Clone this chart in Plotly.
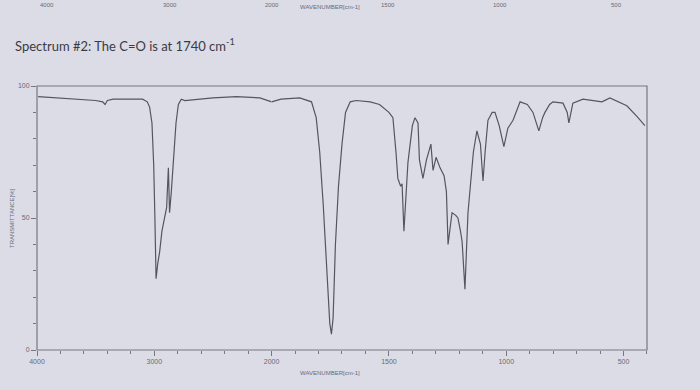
import plotly.graph_objects as go

# ---- data (wavenumber cm-1, %T) ----
wn_high = [3990, 3800, 3600, 3500, 3440, 3420, 3400, 3350, 3200, 3100, 3060, 3040, 3020,
           3005, 2995, 2985, 2970, 2955, 2935, 2910, 2895, 2880, 2870, 2855, 2835, 2815,
           2795, 2770, 2740, 2500, 2300, 2100, 2000]
t_high = [96, 95.5, 95, 94.5, 94, 93, 94.5, 95, 95, 95, 94, 92, 86,
          70, 50, 27, 33, 37, 45, 50, 54, 69, 52, 60, 72, 86,
          93, 95, 94.5, 95.5, 96, 95.5, 94]

wn_low = [2000, 1960, 1880, 1830, 1810, 1795, 1780, 1765, 1752, 1745, 1738, 1728, 1715, 1700,
          1685, 1665, 1640, 1580, 1540, 1500, 1483, 1470, 1462, 1450, 1444, 1436, 1425,
          1419, 1400, 1389, 1376, 1370, 1355, 1340, 1321, 1312, 1299, 1282, 1265, 1255,
          1248, 1240, 1231, 1215, 1206, 1195, 1188, 1176, 1170, 1163, 1140, 1125, 1110,
          1099, 1090, 1078, 1060, 1048, 1030, 1010, 993, 971, 941, 910, 886, 861, 845,
          835, 815, 801, 758, 740, 733, 725, 716, 673, 630, 592, 558, 520, 486, 443, 409]
t_low = [94, 95, 95.5, 94, 88, 75, 55, 28, 10, 6, 12, 40, 62, 78,
         90, 94, 94.5, 94, 93, 90, 88, 75, 65, 62, 63, 45, 62,
         71, 85, 88, 86, 72, 65, 72, 78, 68, 73, 69, 66, 60,
         40, 45, 52, 51, 50, 45, 41, 23, 35, 52, 75, 83, 78,
         64, 75, 87, 90, 90, 85, 77, 84, 87, 94, 93, 90, 83, 88,
         90, 93, 94, 93.5, 90, 86, 90, 93.5, 95, 94.5, 94, 95.5, 94, 92.5, 88.5, 85]

x1_ticks = [4000, 3000]
x2_ticks = [2000, 1500, 1000, 500]
y_ticks = [0, 50, 100]

title_text = "Spectrum #2: The C=O is at 1740 cm<sup>-1</sup>"
x_title = "WAVENUMBER[cm-1]"
y_title = "TRANSMITTANCE[%]"

line_col = "#55555f"
axis_col = "#77777f"
tick_font = dict(family="Liberation Sans", size=7, color="#6a6a72")
bg = "#dcdce6"

fig = go.Figure()
fig.add_trace(go.Scatter(x=wn_high, y=t_high, mode="lines", xaxis="x", yaxis="y",
                         line=dict(color=line_col, width=1.2), showlegend=False))
fig.add_trace(go.Scatter(x=wn_low, y=t_low, mode="lines", xaxis="x2", yaxis="y",
                         line=dict(color=line_col, width=1.2), showlegend=False))

split = 1000 / 2600
common_x = dict(showgrid=False, zeroline=False, ticks="outside", ticklen=5, tickwidth=1,
                tickcolor=axis_col, tickfont=tick_font, anchor="y", showline=False)
fig.update_layout(
    width=700, height=390,
    margin=dict(l=37, r=53, t=86, b=40),
    paper_bgcolor=bg, plot_bgcolor=bg,
    title=dict(text=title_text, x=15/700, xanchor="left", y=1-46/390, yanchor="middle",
               font=dict(family="Lato", size=13, color="#3a3a44")),
    xaxis=dict(domain=[0, split], range=[4000, 2000], tickmode="array", tickvals=x1_ticks,
               minor=dict(tickmode="linear", tick0=0, dtick=200, ticks="outside", ticklen=3,
                          tickcolor=axis_col), **common_x),
    xaxis2=dict(domain=[split, 1], range=[2000, 400], tickmode="array", tickvals=x2_ticks,
                minor=dict(tickmode="linear", tick0=0, dtick=100, ticks="outside", ticklen=3,
                           tickcolor=axis_col), **common_x),
    yaxis=dict(range=[0, 100], tickmode="array", tickvals=y_ticks, showgrid=False, zeroline=False,
               ticks="outside", ticklen=5, tickcolor=axis_col, tickfont=tick_font,
               minor=dict(tickmode="linear", tick0=0, dtick=10, ticks="outside", ticklen=3,
                          tickcolor=axis_col)),
    shapes=[dict(type="rect", xref="paper", yref="paper", x0=0, x1=1, y0=0, y1=1,
                 line=dict(color=axis_col, width=1.2))],
    annotations=[
        dict(text=x_title, xref="paper", yref="paper", x=(330-37)/610, y=-23/264,
             xanchor="center", yanchor="middle", showarrow=False,
             font=dict(family="Liberation Sans", size=6, color="#6a6a72")),
        dict(text=y_title, xref="paper", yref="paper", x=-25/610, y=0.5, textangle=-90,
             xanchor="center", yanchor="middle", showarrow=False,
             font=dict(family="Liberation Sans", size=6, color="#6a6a72")),
    ],
)

# labels of the previous chart, visible along the very top of the page
top_labels = ["4000", "3000", "2000", "1500", "1000", "500"]
top_px = [47, 170, 272, 388, 500, 616]
for lab, px in zip(top_labels, top_px):
    fig.add_annotation(text=lab, xref="paper", yref="paper", x=(px-37)/610, y=(264+86)/264,
                       xanchor="center", yanchor="top", showarrow=False,
                       font=dict(family="Liberation Sans", size=6, color="#6a6a72"))
fig.add_annotation(text=x_title, xref="paper", yref="paper", x=(330-37)/610, y=(264+86-2)/264,
                   xanchor="center", yanchor="top", showarrow=False,
                   font=dict(family="Liberation Sans", size=6, color="#6a6a72"))

fig.write_html("out.html")
